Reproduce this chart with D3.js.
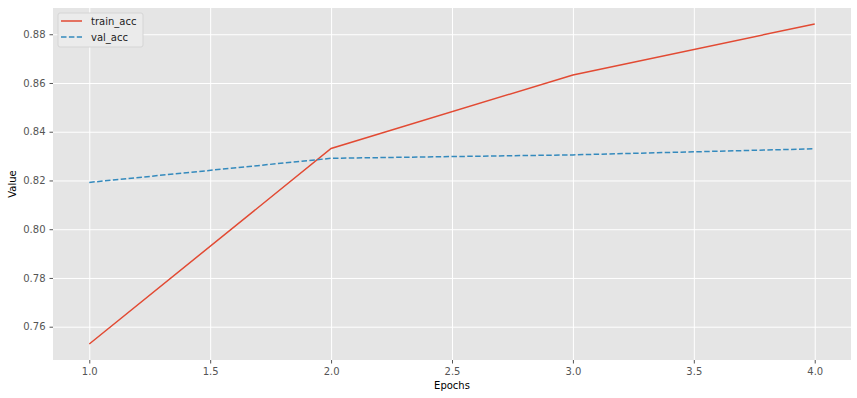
<!DOCTYPE html>
<meta charset="utf-8">
<style>
body { margin: 0; background: #fff; }
text { font-family: "DejaVu Sans", sans-serif; }
.axis path { display: none; }
.axis line { stroke: #555; }
.axis text { fill: #555; font-size: 10px; }
.grid line { stroke: #fff; stroke-width: 1; }
.grid path { display: none; }
</style>
<body>
<script src="https://d3js.org/d3.v7.min.js"></script>
<script>

var epochs = [1, 2, 3, 4];
var trainAcc = [0.7529, 0.8331, 0.8633, 0.8842];
var valAcc = [0.8192, 0.8291, 0.8305, 0.8330];
var xTicks = [1.0, 1.5, 2.0, 2.5, 3.0, 3.5, 4.0];
var yTicks = [0.76, 0.78, 0.80, 0.82, 0.84, 0.86, 0.88];

var margin = {top: 8, right: 6, bottom: 38, left: 53},
    width = 857 - margin.left - margin.right,
    height = 398 - margin.top - margin.bottom;

// matplotlib-style 5% padding
var xExt = d3.extent(epochs), xPad = (xExt[1] - xExt[0]) * 0.05;
var allY = trainAcc.concat(valAcc);
var yExt = d3.extent(allY), yPad = (yExt[1] - yExt[0]) * 0.05;

var x = d3.scaleLinear().domain([xExt[0] - xPad, xExt[1] + xPad]).range([0, width]);
var y = d3.scaleLinear().domain([yExt[0] - yPad, yExt[1] + yPad]).range([height, 0]);

var svg = d3.select("body").append("svg")
    .attr("width", 857)
    .attr("height", 398)
  .append("g")
    .attr("transform", "translate(" + margin.left + "," + margin.top + ")");

svg.append("rect")
    .attr("width", width)
    .attr("height", height)
    .attr("fill", "#e5e5e5");

// grid
svg.append("g")
    .attr("class", "grid")
    .attr("transform", "translate(0," + height + ")")
    .call(d3.axisBottom(x).tickValues(xTicks).tickSize(-height).tickFormat(""));
svg.append("g")
    .attr("class", "grid")
    .call(d3.axisLeft(y).tickValues(yTicks).tickSize(-width).tickFormat(""));

// axes
svg.append("g")
    .attr("class", "axis")
    .attr("transform", "translate(0," + height + ")")
    .call(d3.axisBottom(x).tickValues(xTicks).tickSize(3.5).tickPadding(4).tickFormat(d3.format(".1f")));
svg.append("g")
    .attr("class", "axis")
    .call(d3.axisLeft(y).tickValues(yTicks).tickSize(3.5).tickPadding(4).tickFormat(d3.format(".2f")));

var line = d3.line()
    .x(function(d, i) { return x(epochs[i]); })
    .y(function(d) { return y(d); });

svg.append("path")
    .datum(trainAcc)
    .attr("fill", "none")
    .attr("stroke", "#E24A33")
    .attr("stroke-width", 1.5)
    .attr("d", line);

svg.append("path")
    .datum(valAcc)
    .attr("fill", "none")
    .attr("stroke", "#348ABD")
    .attr("stroke-width", 1.5)
    .attr("stroke-dasharray", "5.5,2.4")
    .attr("d", line);

// axis labels
svg.append("text")
    .attr("x", width / 2)
    .attr("y", height + 29)
    .attr("text-anchor", "middle")
    .attr("font-size", 10)
    .attr("fill", "#000")
    .text("Epochs");

svg.append("text")
    .attr("transform", "translate(" + (-37) + "," + (height / 2) + ") rotate(-90)")
    .attr("text-anchor", "middle")
    .attr("font-size", 10)
    .attr("fill", "#000")
    .text("Value");

// legend
var legend = svg.append("g").attr("transform", "translate(5,5)");
legend.append("rect")
    .attr("width", 85)
    .attr("height", 34)
    .attr("rx", 2)
    .attr("fill", "#ebebeb")
    .attr("stroke", "#d5d5d5");

var items = [
  {name: "train_acc", color: "#E24A33", dash: null},
  {name: "val_acc", color: "#348ABD", dash: "5.5,2.4"}
];
items.forEach(function(it, i) {
  var g = legend.append("g").attr("transform", "translate(0," + (8 + i * 16) + ")");
  g.append("line")
      .attr("x1", 3).attr("x2", 24)
      .attr("y1", 0).attr("y2", 0)
      .attr("stroke", it.color)
      .attr("stroke-width", 1.5)
      .attr("stroke-dasharray", it.dash);
  g.append("text")
      .attr("x", 33)
      .attr("y", 4)
      .attr("font-size", 10)
      .attr("fill", "#222")
      .text(it.name);
});

</script>
</body>
